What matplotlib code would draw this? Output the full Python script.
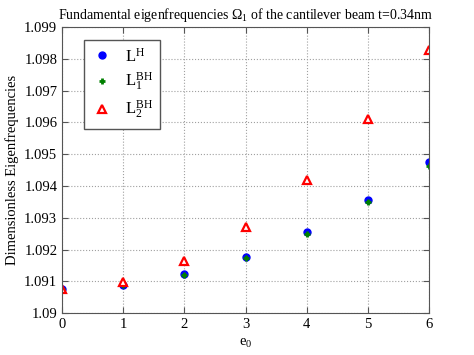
import matplotlib
matplotlib.use('Agg')
import matplotlib.pyplot as plt

plt.rcParams['font.family'] = ['Liberation Serif', 'DejaVu Serif']
plt.rcParams['mathtext.fontset'] = 'custom'
plt.rcParams['mathtext.rm'] = 'Liberation Serif'
plt.rcParams['mathtext.it'] = 'Liberation Serif:italic'

# e0 values and eigenfrequencies
e0 = [0, 1, 2, 3, 4, 5, 6]
L_H = [1.09077, 1.09088, 1.09123, 1.09175, 1.09254, 1.09355, 1.09476]
L1_BH = [1.09077, 1.09087, 1.09121, 1.09173, 1.09249, 1.09348, 1.09463]
L2_BH = [1.09077, 1.09099, 1.09165, 1.09271, 1.09420, 1.09609, 1.09829]
yticks = [1.09, 1.091, 1.092, 1.093, 1.094, 1.095, 1.096, 1.097, 1.098, 1.099]
ytick_labels = ['1.09', '1.091', '1.092', '1.093', '1.094', '1.095',
                '1.096', '1.097', '1.098', '1.099']

fig = plt.figure(figsize=(4.74, 3.55), dpi=100)
ax = fig.add_axes([0.131, 0.118, 0.774, 0.806])

ax.plot(e0, L_H, 'o', color='#0000ff', markersize=5, label=r'$\mathrm{L}^{\mathrm{H}}$')
ax.plot(e0, L1_BH, '+', color='#008000', markersize=5, markeredgewidth=2,
        label=r'$\mathrm{L}_1^{\mathrm{BH}}$')
ax.plot(e0, L2_BH, '^', markerfacecolor='white', markeredgecolor='#ff0000',
        markersize=6, markeredgewidth=1.6, label=r'$\mathrm{L}_2^{\mathrm{BH}}$')

ax.set_xlim(0, 6)
ax.set_ylim(1.09, 1.099)
ax.set_xticks(e0)
ax.set_yticks(yticks)
ax.set_yticklabels(ytick_labels)
ax.tick_params(direction='in', top=True, right=True, labelsize=10.5,
               length=4, color='#555555')
ax.grid(True, linestyle=':', color='#a0a0a0', linewidth=0.8)
for s in ax.spines.values():
    s.set_color('#555555')

ax.set_xlabel(r'e$_0$', fontsize=10.5)
ax.set_ylabel('Dimensionless Eigenfrequencies', fontsize=10.5)
ax.set_title(r'Fundamental eigenfrequencies $\Omega_1$ of the cantilever beam t=0.34nm',
             fontsize=10)

leg = ax.legend(loc='upper left', bbox_to_anchor=(0.06, 0.955), fancybox=False,
                fontsize=12, edgecolor='#555555', framealpha=1,
                handlelength=1.2, handletextpad=0.8, borderpad=0.45,
                labelspacing=0.35, borderaxespad=0)
leg.get_frame().set_linewidth(1)

fig.savefig('out.png', dpi=100)
